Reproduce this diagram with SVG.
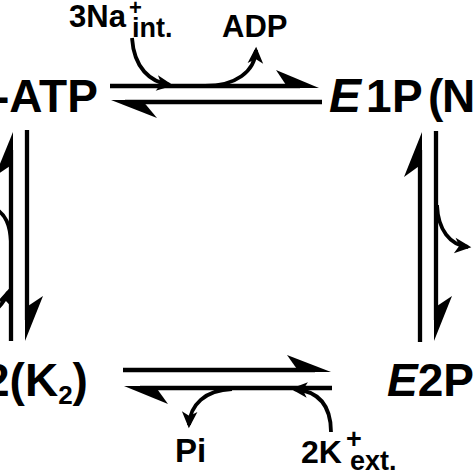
<svg xmlns="http://www.w3.org/2000/svg" width="474" height="474" viewBox="0 0 474 474">
<defs>
<style>
.t{font-family:"Liberation Sans",Arial,sans-serif;font-weight:bold;fill:#000}
.big{font-size:46px}
.ln{stroke:#000;stroke-width:4.3;fill:none}
.cv{stroke:#000;stroke-width:3.8;fill:none}
.hd{fill:#000;stroke:none}
</style>
<marker id="ah" markerUnits="userSpaceOnUse" markerWidth="20" markerHeight="20" viewBox="-14 -8 18 16" refX="0" refY="0" orient="auto">
<path d="M3,0 L-12,-7 L-8,0 L-12,7 Z" fill="#000"/>
</marker>
</defs>
<rect width="474" height="474" fill="#fff"/>
<g id="connectors">
<line class="ln" x1="110" y1="86" x2="300" y2="86"/>
<polygon class="hd" points="276,70 319,88 288,88"/>
<line class="ln" x1="125" y1="102" x2="322" y2="102"/>
<polygon class="hd" points="157,118 111,100 142,100"/>
<line class="ln" x1="123" y1="370" x2="315" y2="370"/>
<polygon class="hd" points="287,355 331,372 299,372"/>
<line class="ln" x1="140" y1="388" x2="332" y2="388"/>
<polygon class="hd" points="168,404 124,386 155,386"/>
<line class="ln" x1="11" y1="150" x2="11" y2="341"/>
<polygon class="hd" points="-5,176 13,132 13,164"/>
<line class="ln" x1="27" y1="130" x2="27" y2="320"/>
<polygon class="hd" points="43,296 25,341 25,308"/>
<line class="ln" x1="420" y1="150" x2="420" y2="342"/>
<polygon class="hd" points="404,177 422,132 422,164"/>
<line class="ln" x1="436" y1="131" x2="436" y2="320"/>
<polygon class="hd" points="452,296 434,341 434,308"/>
<path class="cv" d="M132,38 C134,68 150,82 170,85" marker-end="url(#ah)"/>
<path class="cv" d="M205,86 C235,86 255,72 256,50" marker-end="url(#ah)"/>
<path class="cv" d="M232,389 C205,390 190,405 189,425" marker-end="url(#ah)"/>
<path class="cv" d="M331,432 C331,405 318,391 294,389" marker-end="url(#ah)"/>
<path class="cv" d="M437,205 C438,230 450,245 468,247" marker-end="url(#ah)"/>
<path class="cv" d="M11,242 C10,225 6,214 -6,208"/>
<path class="cv" d="M-20,318 C-5,314 5,302 8,292" marker-end="url(#ah)"/>
</g>
<g id="node-e1atp"><text class="t big" x="-6" y="112">-ATP</text></g>
<g id="node-e1p"><text class="t big" y="112"><tspan x="329" font-style="italic" font-size="48">E</tspan><tspan x="366">1</tspan><tspan x="392">P</tspan><tspan x="428">(</tspan><tspan x="442">N</tspan></text></g>
<g id="node-e2k"><text class="t big" x="-16" y="396">2(K<tspan font-size="26" dy="8">2</tspan><tspan dy="-8">)</tspan></text></g>
<g id="node-e2p"><text class="t big" x="387" y="396"><tspan font-style="italic">E</tspan>2P</text></g>
<g id="label-na"><text class="t" x="69" y="27" font-size="31">3Na<tspan x="129" y="15" font-size="22">+</tspan><tspan x="132" y="37" font-size="27">int.</tspan></text></g>
<g id="label-adp"><text class="t" x="222" y="37" font-size="31">ADP</text></g>
<g id="label-pi"><text class="t" x="175" y="462" font-size="33">Pi</text></g>
<g id="label-k"><text class="t" x="301" y="463" font-size="32">2K<tspan x="346" y="448" font-size="27">+</tspan><tspan x="350" y="470" font-size="27">ext.</tspan></text></g>
</svg>
